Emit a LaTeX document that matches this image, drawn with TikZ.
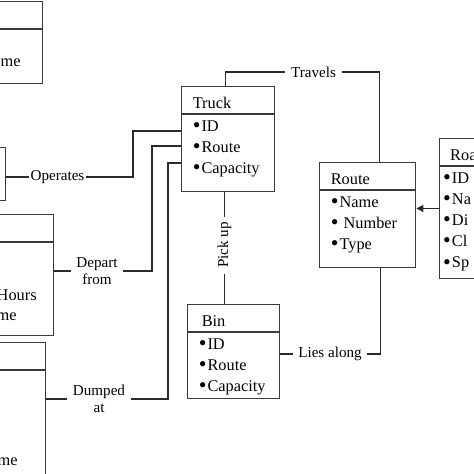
\documentclass[tikz,border=0pt]{standalone}
\usepackage{fontspec}
\setmainfont{Liberation Serif}
\usetikzlibrary{shapes.multipart, arrows.meta, positioning, calc}
\definecolor{boxgrey}{HTML}{3A3A3A}
\definecolor{linegrey}{HTML}{2A2A2A}
\newcommand{\headstrut}{\rule[-1.8pt]{0pt}{12.7pt}}
\newcommand{\pad}[1]{\rule[-#1]{0pt}{0pt}}
\newcommand{\itm}{\raisebox{-0.9pt}{\scalebox{1.35}{\textbullet}}\hspace{0.6pt}}
\tikzstyle{entity} = [rectangle split, rectangle split parts=2, rectangle split part align=left, draw=boxgrey, line width=0.8pt, inner xsep=6.3pt, inner ysep=1pt, align=left, anchor=north west, font=\fontsize{9.3}{12}\selectfont]
\tikzstyle{plainbox} = [rectangle, draw=boxgrey, line width=0.8pt, anchor=north west]
\tikzstyle{cut} = [inner sep=0pt, anchor=base east, font=\fontsize{9.3}{12}\selectfont]
\tikzstyle{relation} = [inner xsep=3pt, inner ysep=1pt, align=center, font=\fontsize{8.6}{10}\selectfont]
\tikzstyle{link} = [line width=0.7pt, color=linegrey]

\begin{document}
\begin{tikzpicture}[x=0.02cm, y=-0.02cm]
\useasboundingbox (0,0) rectangle (474,474);
\clip (0,0) rectangle (474,474);

% entities cut off at the left
\node (owner) [entity, minimum width=2cm] at (-58,1) {\headstrut\nodepart{two}\strut\pad{19.7pt}};
\node (ownerf) [cut] at (21,66.7) {me};
\node (driver) [plainbox, minimum width=1.3cm, minimum height=1.06cm] at (-60,147) {};
\node (depot) [entity, minimum width=2cm] at (-47,214) {\headstrut\nodepart{two}\strut\pad{41.9pt}};
\node (depoth) [cut] at (37,300) {Hours};
\node (depotf) [cut] at (17,320) {me};
\node (landfill) [entity, minimum width=2cm] at (-55,342) {\headstrut\nodepart{two}\strut\pad{49.3pt}};
\node (landf) [cut] at (18,465) {me};

% main entities
\node (truck) [entity, minimum width=1.86cm] at (181,86)
  {\headstrut Truck\nodepart{two}\strut\itm ID\\\itm Route\\\itm Capacity\pad{8.9pt}};
\node (route) [entity, minimum width=1.92cm] at (319,162)
  {\headstrut Route\nodepart{two}\strut\itm Name\\\itm\ Number\\\itm Type\pad{8.9pt}};
\node (road) [entity, inner xsep=2pt, minimum width=1.8cm] at (439,138)
  {\headstrut\hspace{4pt}Roa\nodepart{two}\strut\itm ID\\\itm Na\\\itm Di\\\itm Cl\\\itm Sp\pad{4.7pt}};
\node (bin) [entity, minimum width=1.84cm] at (187,304)
  {\headstrut\hspace{1.7pt}Bin\nodepart{two}\strut\itm ID\\\itm Route\\\itm Capacity\pad{2.7pt}};

% relations
\node (ops) [relation, inner xsep=0.5pt] at (57.5,177) {Operates};
\node (dep) [relation] at (97,271) {Depart\\from};
\node (dump) [relation] at (99,399) {Dumped\\at};
\node (trav) [relation] at (313.5,72) {Travels};
\node (pick) [relation, rotate=90] at (224.5,245) {Pick up};
\node (lies) [relation] at (330,354) {Lies along};

\coordinate (tid) at ($(truck.north west)+(0,45)$);
\coordinate (troute) at ($(truck.north west)+(0,60)$);
\coordinate (tcap) at ($(truck.north west)+(0,77)$);

\draw[link] (ops.west) -- (ops.west -| driver.east);
\draw[link] (ops.east) -| ($(tid)+(-48,0)$) -- (tid);
\draw[link] (dep.west) -- (dep.west -| depot.east);
\draw[link] (dep.east) -| ($(troute)+(-29,0)$) -- (troute);
\draw[link] (dump.west) -- (dump.west -| landfill.east);
\draw[link] (dump.east) -| ($(tcap)+(-13,0)$) -- (tcap);
\draw[link] (trav.west) -| ($(truck.north)+(-3,0)$);
\draw[link] (trav.east) -| ($(route.north)+(12,0)$);
\draw[link] (pick.east) -- (pick.east |- truck.south);
\draw[link] (pick.west) -- (pick.west |- bin.north);
\draw[link] (lies.west) -- (lies.west -| bin.east);
\draw[link] (lies.east) -| ($(route.south)+(13,0)$);
\draw[link, -{Triangle[length=4pt, width=4pt]}] (road.west) -- (road.west -| route.east);
\end{tikzpicture}
\end{document}
